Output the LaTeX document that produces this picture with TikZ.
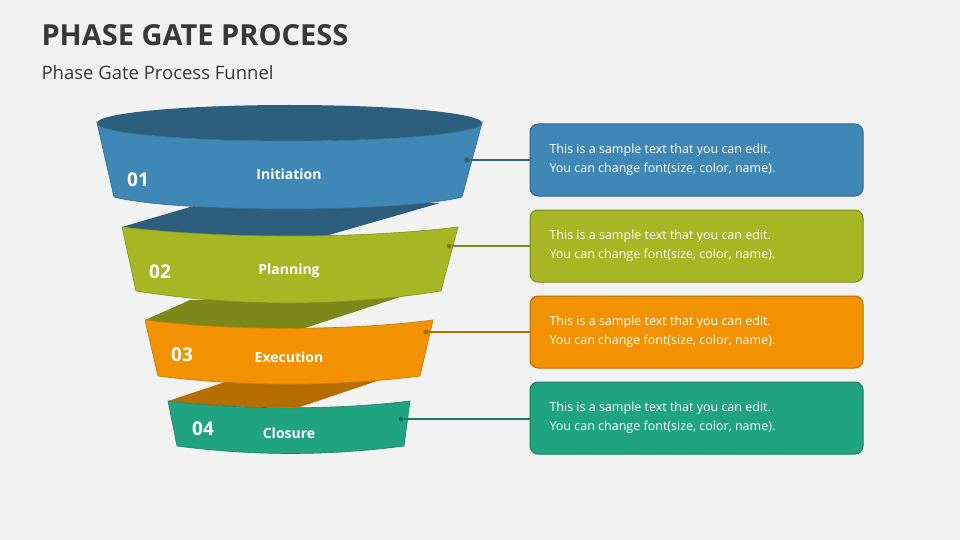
\documentclass[tikz,border=0pt]{standalone}
\usepackage{fontspec}
\setmainfont{Open Sans}
\begin{document}
\begin{tikzpicture}[x=1pt,y=-1pt,
  band/.style={draw=#1!80!black, line width=0.6pt, fill=#1},
  txtbox/.style={draw=#1!75!black, line width=1pt, fill=#1, rounded corners=8pt},
  conn/.style={draw=#1!75!black, line width=1.2pt},
  dot/.style={circle, fill=#1!70!black, inner sep=0pt, minimum size=5pt},
  lbl/.style={text=white, font=\bfseries\fontsize{14}{16}\selectfont},
  num/.style={text=white, font=\bfseries\fontsize{19}{22}\selectfont},
  body/.style={text=white, align=left, anchor=west, font=\fontsize{12.5}{19}\selectfont}]
\definecolor{cB}{HTML}{3F87B4}
\definecolor{cG}{HTML}{A6B723}
\definecolor{cO}{HTML}{F39200}
\definecolor{cT}{HTML}{1FA381}
\definecolor{bgc}{HTML}{F2F2F2}
\fill[bgc] (0,0) rectangle (960,540);
\useasboundingbox (0,0) rectangle (960,540);
\node[anchor=west, text=black!78, font=\bfseries\fontsize{29}{32}\selectfont] (title) at (38,35) {PHASE GATE PROCESS};
\node[anchor=west, text=black!78, font=\fontsize{18.5}{22}\selectfont] (sub) at (38,73) {Phase Gate Process Funnel};
% inner dark parts
\fill[cB!70!black] (190,207) -- (122,227) .. controls (200,236) and (260,238) .. (322,237) -- (440,203) -- cycle;
\fill[cG!75!black] (190,300) -- (145,320) .. controls (200,327) and (250,329) .. (305,328) -- (400,297) -- cycle;
\fill[cO!75!black] (225,382) -- (168,401) .. controls (210,406) and (250,408) .. (300,407) -- (380,380) -- cycle;
% band 1
\fill[cB!70!black] (289.5,123) ellipse [x radius=192.5, y radius=18];
\path[band=cB] (97,123) .. controls (97,133) and (183,141) .. (289.5,141) .. controls (396,141) and (482,133) .. (482,123)
  -- (462,197) .. controls (400,213) and (176,213) .. (114,197) -- cycle;
% band 2
\path[band=cG] (122,227) .. controls (220,239) and (360,239) .. (458,227) -- (441,291) .. controls (340,307) and (237,307) .. (136,291) -- cycle;
% band 3
\path[band=cO] (145,320) .. controls (230,331) and (348,331) .. (433,320) -- (420,376) .. controls (333,387) and (245,387) .. (158,376) -- cycle;
% band 4
\path[band=cT] (168,401) .. controls (240,410) and (338,410) .. (410,401) -- (404,446) .. controls (328,456) and (253,456) .. (177,446) -- cycle;
% labels
\node[num] (n1) at (138,180) {01}; \node[lbl] (l1) at (289,174) {Initiation};
\node[num] (n2) at (160,272) {02}; \node[lbl] (l2) at (289,271) {Planning};
\node[num] (n3) at (182,355) {03}; \node[lbl] (l3) at (289,357) {Execution};
\node[num] (n4) at (203,429) {04}; \node[lbl] (l4) at (289,433) {Closure};
% boxes
\path[txtbox=cB] (530,124) rectangle (863,196);
\path[txtbox=cG] (530,210) rectangle (863,282);
\path[txtbox=cO] (530,296) rectangle (863,368);
\path[txtbox=cT] (530,382) rectangle (863,454);
\coordinate (b1) at (530,160); \coordinate (b2) at (530,246);
\coordinate (b3) at (530,332); \coordinate (b4) at (530,419);
\node[body] (t1) at (546,160) {This is a sample text that you can edit.\\You can change font(size, color, name).};
\node[body] (t2) at (546,246) {This is a sample text that you can edit.\\You can change font(size, color, name).};
\node[body] (t3) at (546,332) {This is a sample text that you can edit.\\You can change font(size, color, name).};
\node[body] (t4) at (546,418) {This is a sample text that you can edit.\\You can change font(size, color, name).};
% connectors
\node[dot=cB] (d1) at (467,160) {}; \draw[conn=cB] (d1) -- (b1);
\node[dot=cG] (d2) at (449,246) {}; \draw[conn=cG] (d2) -- (b2);
\node[dot=cO] (d3) at (426,332) {}; \draw[conn=cO] (d3) -- (b3);
\node[dot=cT] (d4) at (401,419) {}; \draw[conn=cT] (d4) -- (b4);
\end{tikzpicture}
\end{document}
